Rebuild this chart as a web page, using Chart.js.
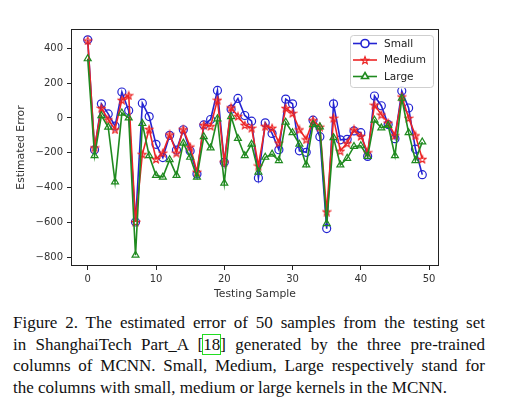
<!DOCTYPE html>
<html>
<head>
<meta charset="utf-8">
<script src="https://cdn.jsdelivr.net/npm/chart.js@4/dist/chart.umd.min.js"></script>
<style>
  html, body { margin: 0; padding: 0; background: #fff; }
  #wrap { position: relative; width: 507px; height: 409px; overflow: hidden; }
  #plot { position: absolute; left: 0; top: 0; width: 507px; height: 305px; }
  #caption { position: absolute; left: 13px; top: 312px; width: 472px;
    font-family: "Liberation Serif", "Times New Roman", serif; font-size: 17px; line-height: 21.7px; color: #111; }
  #caption div { text-align: justify; text-align-last: justify; }
  #caption div.last { text-align-last: left; }
  .ref { outline: 1px solid #22dd22; outline-offset: 0; }
</style>
</head>
<body>
<div id="wrap">
  <div id="plot"><canvas id="errChart"></canvas></div>
  <div id="caption">
    <div>Figure 2. The estimated error of 50 samples from the testing set</div>
    <div>in ShanghaiTech Part_A [<span class="ref">18</span>] generated by the three pre-trained</div>
    <div>columns of MCNN. Small, Medium, Large respectively stand for</div>
    <div class="last">the columns with small, medium or large kernels in the MCNN.</div>
  </div>
</div>
<script>
// valores (amostra 0..49)
const samples = Array.from({ length: 50 }, (_, i) => i);
const smallErr = [449, -183, 81, 23, -47, 149, 42, -598, 85, 8,
  -152, -228, -100, -185, -68, -190, -322, -40, -9, 158,
  -255, 50, 112, 14, -19, -345, -28, -89, -183, 108,
  81, -189, -198, -13, -108, -636, 81, -126, -123, -75,
  -85, -221, 126, 70, -38, -119, 155, 57, -179, -326];
const mediumErr = [445, -170, 57, -9, -66, 104, 130, -598, -208, -64,
  -236, -200, -95, -200, -65, -165, -310, -40, -47, 104,
  -255, 60, 10, -40, -57, -274, -47, -57, -142, 57,
  28, -66, -123, -13, -51, -538, 0, -189, -145, -66,
  -104, -198, 75, 19, -28, -100, 123, 0, -100, -236];
const largeErr = [340, -217, 13, -53, -368, 28, 0, -789, -32, -217,
  -330, -340, -240, -330, -145, -226, -340, -108, -172, -5,
  -375, 8, -118, -217, -151, -311, -226, -208, -245, -25,
  -85, -151, -270, -38, -51, -607, -113, -270, -232, -164,
  -160, -221, -13, -57, -43, -217, 113, -85, -245, -138];
const xTicks = [0, 10, 20, 30, 40, 50];
const yTicks = [-800, -600, -400, -200, 0, 200, 400];

const BLUE = '#2323d2', RED = '#ec2424', GREEN = '#1f8a1f';

// estrela vazada estilo matplotlib '*'
function makeStar(color) {
  const c = document.createElement('canvas');
  const s = 10;
  c.width = s; c.height = s;
  const g = c.getContext('2d');
  g.strokeStyle = color; g.lineWidth = 1.1;
  g.beginPath();
  for (let k = 0; k < 10; k++) {
    const r = k % 2 === 0 ? 4.0 : 1.7;
    const a = -Math.PI / 2 + k * Math.PI / 5;
    const px = s / 2 + r * Math.cos(a), py = s / 2 + 0.5 + r * Math.sin(a);
    k === 0 ? g.moveTo(px, py) : g.lineTo(px, py);
  }
  g.closePath(); g.stroke();
  return c;
}
const starImg = makeStar(RED);

const toPts = arr => arr.map((v, i) => ({ x: samples[i], y: v }));

const series = [
  { label: 'Small', data: smallErr, color: BLUE, style: 'circle', order: 2 },
  { label: 'Medium', data: mediumErr, color: RED, style: starImg, order: 1 },
  { label: 'Large', data: largeErr, color: GREEN, style: 'triangle', order: 0 }
];

// moldura + legenda dentro da área do gráfico
const framePlugin = {
  id: 'frame',
  afterDatasetsDraw(chart) {
    const { ctx, chartArea: a } = chart;
    ctx.save();
    ctx.strokeStyle = '#222'; ctx.lineWidth = 1;
    ctx.strokeRect(a.left + 0.5, a.top + 0.5, a.right - a.left - 1, a.bottom - a.top - 1);

    const bw = 83, bh = 52;
    const bx = a.right - 6 - bw, by = a.top + 6;
    ctx.fillStyle = 'rgba(255,255,255,0.85)';
    ctx.strokeStyle = '#cfcfcf';
    ctx.beginPath();
    ctx.roundRect(bx + 0.5, by + 0.5, bw, bh, 3);
    ctx.fill(); ctx.stroke();

    ctx.font = '10.5px "DejaVu Sans"';
    ctx.textBaseline = 'middle';
    series.forEach((s, k) => {
      const yy = by + 8.5 + k * 16.5;
      ctx.strokeStyle = s.color; ctx.lineWidth = 1.6;
      ctx.beginPath(); ctx.moveTo(bx + 3, yy); ctx.lineTo(bx + 27, yy); ctx.stroke();
      ctx.fillStyle = '#fff';
      Chart.helpers.drawPoint(ctx, { pointStyle: s.style, radius: 4, borderWidth: 1.2, rotation: 0 }, bx + 15, yy);
      ctx.fillStyle = '#222';
      ctx.fillText(s.label, bx + 34, yy + 0.5);
    });
    ctx.restore();
  }
};

new Chart(document.getElementById('errChart'), {
  type: 'line',
  data: {
    datasets: series.map(s => ({
      label: s.label,
      data: toPts(s.data),
      borderColor: s.color,
      backgroundColor: 'rgba(0,0,0,0)',
      pointStyle: s.style,
      pointRadius: 4,
      pointBorderWidth: 1.2,
      borderWidth: 1.6,
      order: s.order,
      tension: 0
    }))
  },
  options: {
    responsive: true, maintainAspectRatio: false, animation: false,
    layout: { padding: { top: 29, right: 68, left: 0, bottom: 0 } },
    plugins: { legend: { display: false }, tooltip: { enabled: false } },
    scales: {
      x: {
        type: 'linear', min: -2.45, max: 51.45,
        afterBuildTicks: ax => { ax.ticks = xTicks.map(v => ({ value: v })); },
        afterFit: ax => { ax.height = 39; },
        grid: { drawOnChartArea: false, drawTicks: true, tickLength: 4, color: '#222' },
        border: { display: false },
        ticks: { padding: 3, color: '#333', font: { family: 'DejaVu Sans', size: 10 }, maxRotation: 0 },
        title: { display: true, text: 'Testing Sample', color: '#333', font: { family: 'DejaVu Sans', size: 10.8 }, padding: { top: 0, bottom: 4 } }
      },
      y: {
        min: -851, max: 511,
        afterBuildTicks: ax => { ax.ticks = yTicks.map(v => ({ value: v })); },
        afterFit: ax => { ax.width = 71; },
        grid: { drawOnChartArea: false, drawTicks: true, tickLength: 4, color: '#222' },
        border: { display: false },
        ticks: { padding: 4, color: '#333', font: { family: 'DejaVu Sans', size: 10 },
          callback: v => String(v).replace('-', '\u2212') },
        title: { display: true, text: 'Estimated Error', color: '#333', font: { family: 'DejaVu Sans', size: 10.8 }, padding: { top: 15, bottom: 0 } }
      }
    }
  },
  plugins: [framePlugin]
});
</script>
</body>
</html>
